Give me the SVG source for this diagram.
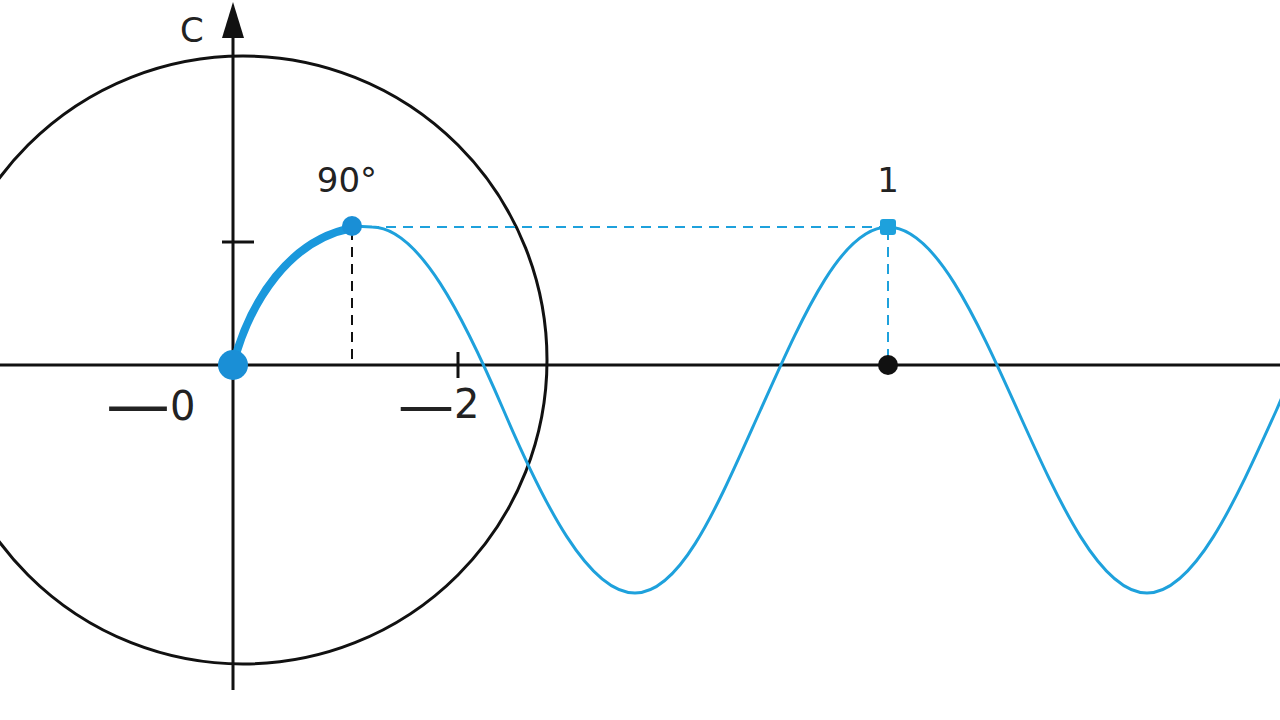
<svg xmlns="http://www.w3.org/2000/svg" width="1280" height="720" viewBox="0 0 1280 720">
<style>
.ax{stroke:#111;stroke-width:3;fill:none}
.t{font-family:"DejaVu Sans",sans-serif;font-size:34px;fill:#222}
.n{font-family:"DejaVu Sans",sans-serif;font-size:40px;fill:#222}
.w{stroke:#1ea1dc;stroke-width:3;fill:none}
</style>
<rect width="1280" height="720" fill="#fff"/>
<g id="circle"><circle cx="243" cy="360" r="304" class="ax"/></g>
<g id="axes">
<line x1="0" y1="365" x2="1280" y2="365" class="ax"/>
<line x1="233" y1="690" x2="233" y2="30" class="ax"/>
<polygon points="233,2 222,38 244,38" fill="#111"/>
<line x1="222" y1="242" x2="254" y2="242" class="ax"/>
<line x1="458" y1="352" x2="458" y2="378" class="ax"/>
</g>
<g id="connectors">
<line x1="352" y1="227" x2="888" y2="227" stroke="#1ea1dc" stroke-width="2" stroke-dasharray="10,7"/>
<line x1="352" y1="230" x2="352" y2="365" stroke="#111" stroke-width="2" stroke-dasharray="10,7"/>
<line x1="888" y1="230" x2="888" y2="365" stroke="#1ea1dc" stroke-width="2" stroke-dasharray="10,7"/>
</g>
<g id="wave">
<path class="w" d="M352,226 L372,227 C418.7,227 463.3,316.3 503.5,410 S588.3,593 635,593 S718.3,503.7 760.5,410 S841.3,227 888,227 S975.3,316.3 1017.5,410 S1100.3,593 1147,593 S1234.3,503.7 1276.5,410 S1312,227 1359,227"/>
<path d="M233,365 C250,300 290,240 352,228" stroke="#1a98dc" stroke-width="8" fill="none" stroke-linecap="round"/>
</g>
<g id="points">
<circle cx="233" cy="365" r="15" fill="#1a8fd6"/>
<circle cx="352" cy="226" r="10" fill="#1a8fd6"/>
<rect x="880" y="219" width="16" height="16" rx="3" fill="#1ea1dc"/>
<circle cx="888" cy="365" r="10" fill="#111"/>
</g>
<g id="labels">
<text x="106" y="426" class="n"><tspan font-size="64">—</tspan><tspan dy="-6">0</tspan></text>
<text x="398" y="424" class="n"><tspan font-size="56">—</tspan><tspan dy="-6">2</tspan></text>
<text x="180" y="42" class="t">C</text>
<text x="347" y="192" class="t" text-anchor="middle">90°</text>
<text x="888" y="192" class="t" text-anchor="middle">1</text>
</g>
</svg>
